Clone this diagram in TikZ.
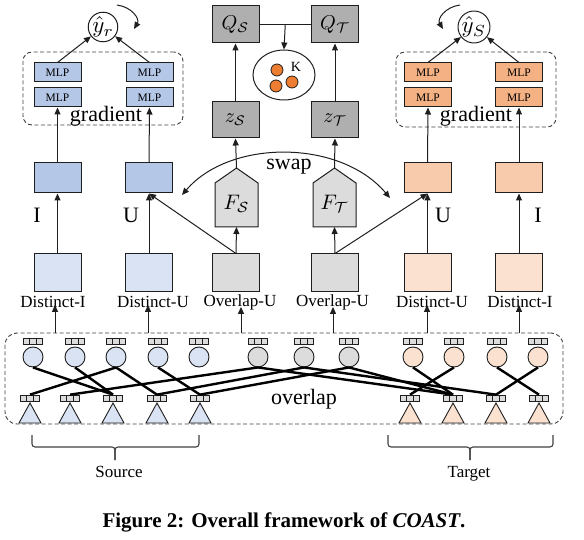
\documentclass[tikz,border=0pt]{standalone}
\usepackage{fontspec}
\usepackage{graphicx}
\setmainfont{Liberation Serif}
\usetikzlibrary{arrows.meta,shapes.geometric,calc}
\definecolor{bluedark}{HTML}{B4C7E7}
\definecolor{bluelight}{HTML}{DAE3F3}
\definecolor{orgdark}{HTML}{F4B183}
\definecolor{orgmid}{HTML}{F8CBAD}
\definecolor{orglight}{HTML}{FBE2D0}
\definecolor{greydark}{HTML}{AFAFAF}
\definecolor{greylight}{HTML}{DCDCDC}
\definecolor{kdot}{HTML}{ED7D31}
\definecolor{ink}{HTML}{1E1E1E}
\newcommand{\myfs}[1]{\fontsize{#1}{#1}\selectfont}
\newcommand{\mymath}[2]{\scalebox{#1}{\normalsize$#2$}}
\begin{document}
\begin{tikzpicture}[x=1pt,y=-1pt,
  box/.style={draw=ink,line width=1pt,minimum width=47pt,inner sep=0pt},
  mlp/.style={box,minimum height=19pt,font=\myfs{11.5}},
  upbox/.style={box,minimum height=30pt},
  lowbox/.style={box,minimum height=38pt},
  qbox/.style={box,fill=greydark,minimum height=37pt},
  arr/.style={-{Triangle[length=7pt,width=6pt]},line width=1pt,draw=ink},
  dbox/.style={draw=black!75,line width=0.9pt,dash pattern=on 4pt off 2.5pt,rounded corners=9pt,inner sep=0pt},
  big/.style={font=\myfs{22},inner sep=0pt},
  lab/.style={font=\myfs{17},inner sep=0pt},
  outc/.style={circle,draw=ink,line width=1pt,minimum size=28pt,inner sep=0pt},
  ucirc/.style={circle,draw=ink,line width=0.9pt,minimum size=20pt,inner sep=0pt},
  house/.style={draw=ink,line width=1pt,fill=greylight},
  tri/.style={draw=ink,line width=0.9pt},
  emb/.style={draw=ink,fill=greylight,minimum width=19pt,minimum height=6pt,inner sep=0pt,line width=0.7pt,
    path picture={\draw[line width=0.7pt,ink]
      ($(path picture bounding box.south west)!1/3!(path picture bounding box.south east)$) --
      ($(path picture bounding box.north west)!1/3!(path picture bounding box.north east)$)
      ($(path picture bounding box.south west)!2/3!(path picture bounding box.south east)$) --
      ($(path picture bounding box.north west)!2/3!(path picture bounding box.north east)$);}},
  link/.style={line width=2.4pt,draw=black},
  bracest/.style={draw=black!75,line width=1.1pt,rounded corners=3pt},
]
\useasboundingbox (0,0) rectangle (584,540);

% ---------- gradient groups ----------
\node[dbox,minimum width=160pt,minimum height=73pt] (gradL) at (103,88.5) {};
\node[dbox,minimum width=160pt,minimum height=75pt] (gradR) at (476,89.5) {};
\node[big] (gtL) at (106,116) {gradient};
\node[big] (gtR) at (476,116) {gradient};

\node[mlp,fill=bluedark] (mA1) at (57.5,72.5) {MLP};
\node[mlp,fill=bluedark] (mA2) at (57.5,97.5) {MLP};
\node[mlp,fill=bluedark] (mB1) at (149.5,72.5) {MLP};
\node[mlp,fill=bluedark] (mB2) at (149.5,97.5) {MLP};
\node[mlp,fill=orgdark] (mC1) at (428,72.5) {MLP};
\node[mlp,fill=orgdark] (mC2) at (428,97.5) {MLP};
\node[mlp,fill=orgdark] (mD1) at (519,72.5) {MLP};
\node[mlp,fill=orgdark] (mD2) at (519,97.5) {MLP};

\node[outc] (yr) at (103,27) {\mymath{2.3}{\hat{y}_r}};
\node[outc] (ys) at (474,27) {\mymath{2.3}{\hat{y}_S}};
\draw[arr] (mA1.north) -- (yr);
\draw[arr] (mB1.north) -- (yr);
\draw[arr] (mC1.north) -- (ys);
\draw[arr] (mD1.north) -- (ys);
\draw[arr] ($(yr)+(14,-22)$) .. controls ($(yr)+(29,-20)$) and ($(yr)+(37,-8)$) .. ($(yr)+(31,2)$);
\draw[arr] ($(ys)+(-14,-22)$) .. controls ($(ys)+(-29,-20)$) and ($(ys)+(-37,-8)$) .. ($(ys)+(-31,2)$);

% ---------- middle column ----------
\node[qbox] (QS) at (235.5,24.5) {\mymath{2}{Q_{\mathcal{S}}}};
\node[qbox] (QT) at (335,24.5) {\mymath{2}{Q_{\mathcal{T}}}};
\node[qbox,minimum height=36pt] (zS) at (235.5,120) {\mymath{2}{z_{\mathcal{S}}}};
\node[qbox,minimum height=36pt] (zT) at (335,120) {\mymath{2}{z_{\mathcal{T}}}};
\node[ellipse,draw=ink,line width=1pt,minimum width=62pt,minimum height=50pt,inner sep=0pt] (K) at (284,75) {};
\node[circle,draw=ink,fill=kdot,minimum size=12pt,inner sep=0pt,line width=0.8pt] (k1) at (277,70) {};
\node[circle,draw=ink,fill=kdot,minimum size=12pt,inner sep=0pt,line width=0.8pt] (k2) at (276,86) {};
\node[circle,draw=ink,fill=kdot,minimum size=12pt,inner sep=0pt,line width=0.8pt] (k3) at (292,82) {};
\node[font=\myfs{14}] (Klab) at (296,67) {K};
\draw[line width=1pt,ink] (QS.east) -- (QT.west);
\draw[arr] ($(QS.east)!0.5!(QT.west)$) -- (K.north);
\draw[arr] (zS) -- (QS);
\draw[arr] (zT) -- (QT);

% F houses
\path[house] (215,227) -- (215,183) -- (236.5,168) -- (258,183) -- (258,227) -- cycle;
\path[house] (313,227) -- (313,183) -- (334.5,168) -- (356,183) -- (356,227) -- cycle;
\node (FS) at (236.5,204) {\mymath{2.1}{F_{\mathcal{S}}}};
\node (FT) at (334.5,204) {\mymath{2.1}{F_{\mathcal{T}}}};
\coordinate (FSt) at (236.5,168);
\coordinate (FSb) at (236.5,227);
\coordinate (FTt) at (334.5,168);
\coordinate (FTb) at (334.5,227);
\draw[arr] (FSt) -- (zS.south);
\draw[arr] (FTt) -- (zT.south);

% swap
\coordinate (swapL) at (182,195);
\coordinate (swapR) at (390,198);
\draw[{Triangle[length=7pt,width=6pt]}-{Triangle[length=7pt,width=6pt]},line width=1pt,ink]
  (swapL) .. controls (230,139) and (340,139) .. (swapR);
\node[big] (swap) at (289,167) {swap};

% ---------- embedding rows ----------
\node[upbox,fill=bluedark] (bI) at (57.5,178) {};
\node[upbox,fill=bluedark] (bU) at (149,178) {};
\node[upbox,fill=orgmid] (oU) at (427.5,178) {};
\node[upbox,fill=orgmid] (oI) at (519,178) {};
\node[big] (tI1) at (37,215) {I};
\node[big] (tU1) at (131,215) {U};
\node[big] (tU2) at (443,215) {U};
\node[big] (tI2) at (538,215) {I};

\draw[arr] (bI.north) -- (mA2.south);
\draw[arr] (bU.north) -- (mB2.south);
\draw[arr] (oU.north) -- (mC2.south);
\draw[arr] (oI.north) -- (mD2.south);

\node[lowbox,fill=bluelight] (dI) at (57.5,273) {};
\node[lowbox,fill=bluelight] (dU) at (149,273) {};
\node[lowbox,fill=greylight] (ovS) at (236,273) {};
\node[lowbox,fill=greylight] (ovT) at (335,273) {};
\node[lowbox,fill=orglight] (dUt) at (427.5,273) {};
\node[lowbox,fill=orglight] (dIt) at (519,273) {};

\draw[arr] (dI.north) -- (bI.south);
\draw[arr] (dU.north) -- (bU.south);
\draw[arr] (dUt.north) -- (oU.south);
\draw[arr] (dIt.north) -- (oI.south);
\draw[arr] (ovS.north) -- (bU.south);
\draw[arr] (ovT.north) -- (oU.south);
\draw[arr] (ovS.north) -- (FSb);
\draw[arr] (ovT.north) -- (FTb);

\node[lab] (l1) at (53,302) {Distinct-I};
\node[lab] (l2) at (153,302) {Distinct-U};
\node[lab] (l3) at (240,302) {Overlap-U};
\node[lab] (l4) at (332.5,302) {Overlap-U};
\node[lab] (l5) at (432,302) {Distinct-U};
\node[lab] (l6) at (520,302) {Distinct-I};

% ---------- graph ----------
\node[dbox,rounded corners=12pt,minimum width=558pt,minimum height=91pt] (graph) at (284,378.5) {};
\node[big] (ovl) at (304,399) {overlap};

\foreach \n/\x in {l1/55,l2/148,l3/241,l4/333,l5/427,l6/519}{
  \draw[arr] (\x,333) -- ([yshift=3pt]\n.south -| \x,0);
}

\foreach \n/\x in {u1/33,u2/75,u3/116,u4/158,u5/199}{
  \node[ucirc,fill=bluelight] (\n) at (\x,357) {};
  \node[emb] (\n e) at (\x,341) {};
}
\foreach \n/\x in {g1/258,g2/304,g3/349}{
  \node[ucirc,fill=greylight] (\n) at (\x,357) {};
  \node[emb] (\n e) at (\x,341) {};
}
\foreach \n/\x in {t1/413,t2/454,t3/497,t4/538}{
  \node[ucirc,fill=orglight] (\n) at (\x,357) {};
  \node[emb] (\n e) at (\x,341) {};
}
\foreach \n/\x in {s1/30,s2/70,s3/113,s4/157,s5/200}{
  \draw[tri,fill=bluelight] (\x-11,423) -- (\x,403) -- (\x+11,423) -- cycle;
  \node[emb] (\n e) at (\x,398) {};
}
\foreach \n/\x in {o1/410,o2/453,o3/496,o4/539}{
  \draw[tri,fill=orglight] (\x-11,423) -- (\x,403) -- (\x+11,423) -- cycle;
  \node[emb] (\n e) at (\x,398) {};
}

\draw[link] (u1.south) -- (s3e.north);
\draw[link] (u2.south) -- (s3e.north);
\draw[link] (u3.south) -- (s1e.north);
\draw[link] (u3.south) -- (s4e.north);
\draw[link] (u4.south) -- (s5e.north);
\draw[link] (g1.south) -- (s2e.north);
\draw[link] (g2.south) -- (s4e.north);
\draw[link] (g3.south) -- (s5e.north);
\draw[link] (g1.south) -- (o2e.north);
\draw[link] (g2.south) -- (o3e.north);
\draw[link] (g3.south) -- (o2e.north);
\draw[link] (t1.south) -- (o2e.north);
\draw[link] (t2.south) -- (o1e.north);
\draw[link] (t3.south) -- (o4e.north);
\draw[link] (t4.south) -- (o3e.north);

% ---------- braces ----------
\draw[bracest] (32,435) -- (32,447) -- (115,447) -- (115,460);
\draw[bracest] (199,435) -- (199,447) -- (115,447) -- (115,460);
\draw[bracest] (388,435) -- (388,447) -- (470,447) -- (470,460);
\draw[bracest] (553,435) -- (553,447) -- (470,447) -- (470,460);
\node[lab] (src) at (119,472) {Source};
\node[lab] (tgt) at (469,474) {Target};

% ---------- caption ----------
\node[font=\myfs{21}\bfseries] (cap) at (284,522) {Figure 2: Overall framework of \textit{COAST}.};
\end{tikzpicture}
\end{document}
